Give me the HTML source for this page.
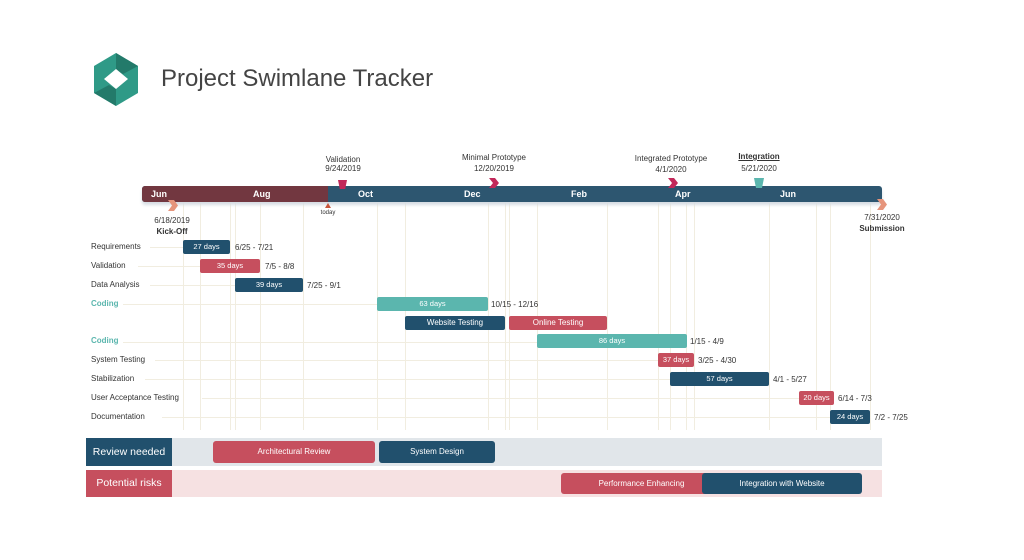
<!DOCTYPE html>
<html><head><meta charset="utf-8"><style>
body{margin:0;width:1024px;height:560px;background:#fff;font-family:"Liberation Sans",sans-serif;position:relative;overflow:hidden}
.a{position:absolute}
.t{position:absolute;font-size:8px;color:#333;white-space:nowrap}
.c{text-align:center;transform:translateX(-50%)}
.g{position:absolute;width:1px;background:#f1ede0;top:202px;height:228px}
.b{position:absolute;height:14px;border-radius:2px;color:#fff;font-size:7.5px;text-align:center;line-height:14px;white-space:nowrap}
.d{background:#21506d}.r{background:#c64f5e}.q{background:#5bb6ae}
.l{position:absolute;height:1px;background:#f1ede0}
.m{position:absolute;font-size:9px;color:#fff;font-weight:bold;top:189px}
</style></head><body>
<svg class="a" style="left:93px;top:52px" width="46" height="55" viewBox="0 0 46 55">
<polygon points="23,1 45,14 45,41 23,54 1,41 1,14" fill="#2f9a87"/>
<polygon points="23,1 45,14 30,22 23,18" fill="#237a6a"/>
<polygon points="1,41 23,54 23,37 16,33" fill="#237a6a"/>
<polygon points="23,17 35,27 23,37 11,27" fill="#fff"/>
</svg>
<div class="t" style="left:161px;top:65px;font-size:24px;color:#444">Project Swimlane Tracker</div>

<div class="g" style="left:183px"></div><div class="g" style="left:200px"></div><div class="g" style="left:230px"></div><div class="g" style="left:235px"></div><div class="g" style="left:260px"></div><div class="g" style="left:303px"></div><div class="g" style="left:377px"></div><div class="g" style="left:405px"></div><div class="g" style="left:488px"></div><div class="g" style="left:505px"></div><div class="g" style="left:509px"></div><div class="g" style="left:537px"></div><div class="g" style="left:607px"></div><div class="g" style="left:658px"></div><div class="g" style="left:670px"></div><div class="g" style="left:686px"></div><div class="g" style="left:694px"></div><div class="g" style="left:769px"></div><div class="g" style="left:816px"></div><div class="g" style="left:830px"></div><div class="g" style="left:870px"></div>

<div class="a" style="left:142px;top:186px;width:740px;height:16px;background:#2d5670;border-radius:3px;box-shadow:0 3px 3px #d6dde3"></div>
<div class="a" style="left:142px;top:186px;width:186px;height:16px;background:#723740;border-radius:3px 0 0 3px"></div>
<div class="m" style="left:151px">Jun</div><div class="m" style="left:253px">Aug</div><div class="m" style="left:358px">Oct</div><div class="m" style="left:464px">Dec</div><div class="m" style="left:571px">Feb</div><div class="m" style="left:675px">Apr</div><div class="m" style="left:780px">Jun</div>

<div class="a" style="left:338px;top:180px;width:9px;height:9px;background:#c2285a;clip-path:polygon(0 0,100% 0,80% 100%,20% 100%)"></div>
<div class="a" style="left:489px;top:178px;width:10px;height:10px;background:#c2285a;clip-path:polygon(0 0,60% 0,100% 50%,60% 100%,0 100%,40% 50%)"></div>
<div class="a" style="left:668px;top:178px;width:10px;height:10px;background:#c2285a;clip-path:polygon(0 0,60% 0,100% 50%,60% 100%,0 100%,40% 50%)"></div>
<div class="a" style="left:754px;top:178px;width:10px;height:10px;background:#5bb6ae;clip-path:polygon(0 0,100% 0,80% 100%,20% 100%)"></div>
<div class="a" style="left:168px;top:200px;width:10px;height:11px;background:#e6957c;clip-path:polygon(0 0,60% 0,100% 50%,60% 100%,0 100%,40% 50%)"></div>
<div class="a" style="left:877px;top:199px;width:10px;height:11px;background:#e6957c;clip-path:polygon(0 0,60% 0,100% 50%,60% 100%,0 100%,40% 50%)"></div>
<div class="a" style="left:325px;top:203px;width:0;height:0;border-left:3px solid transparent;border-right:3px solid transparent;border-bottom:5px solid #c8553a"></div>
<div class="t c" style="left:328px;top:210px;font-size:6px">today</div>

<div class="t c" style="left:343px;top:155px">Validation<br>9/24/2019</div>
<div class="t c" style="left:494px;top:152px;line-height:11px">Minimal Prototype<br>12/20/2019</div>
<div class="t c" style="left:671px;top:153px;line-height:11px">Integrated Prototype<br>4/1/2020</div>
<div class="t c" style="left:759px;top:151px;line-height:12px"><b style="text-decoration:underline">Integration</b><br>5/21/2020</div>
<div class="t c" style="left:172px;top:215px;line-height:11px">6/18/2019<br><b>Kick-Off</b></div>
<div class="t c" style="left:882px;top:212px;line-height:11px">7/31/2020<br><b>Submission</b></div>

<div class="t" style="left:91px;top:242px">Requirements</div><div class="l" style="left:150px;top:247px;width:33px"></div>
<div class="t" style="left:91px;top:261px">Validation</div><div class="l" style="left:138px;top:266px;width:62px"></div>
<div class="t" style="left:91px;top:280px">Data Analysis</div><div class="l" style="left:150px;top:285px;width:85px"></div>
<div class="t" style="left:91px;top:299px;color:#5bb6ae;font-weight:bold">Coding</div><div class="l" style="left:123px;top:304px;width:254px"></div>
<div class="t" style="left:91px;top:336px;color:#5bb6ae;font-weight:bold">Coding</div><div class="l" style="left:123px;top:342px;width:414px"></div>
<div class="t" style="left:91px;top:355px">System Testing</div><div class="l" style="left:155px;top:360px;width:503px"></div>
<div class="t" style="left:91px;top:374px">Stabilization</div><div class="l" style="left:145px;top:379px;width:525px"></div>
<div class="t" style="left:91px;top:393px">User Acceptance Testing</div><div class="l" style="left:202px;top:398px;width:597px"></div>
<div class="t" style="left:91px;top:412px">Documentation</div><div class="l" style="left:162px;top:417px;width:668px"></div>

<div class="b d" style="left:183px;top:240px;width:47px">27 days</div><div class="t" style="left:235px;top:243px">6/25 - 7/21</div>
<div class="b r" style="left:200px;top:259px;width:60px">35 days</div><div class="t" style="left:265px;top:262px">7/5 - 8/8</div>
<div class="b d" style="left:235px;top:278px;width:68px">39 days</div><div class="t" style="left:307px;top:281px">7/25 - 9/1</div>
<div class="b q" style="left:377px;top:297px;width:111px">63 days</div><div class="t" style="left:491px;top:300px">10/15 - 12/16</div>
<div class="b d" style="left:405px;top:316px;width:100px;font-size:8px">Website Testing</div>
<div class="b r" style="left:509px;top:316px;width:98px;font-size:8px">Online Testing</div>
<div class="b q" style="left:537px;top:334px;width:150px">86 days</div><div class="t" style="left:690px;top:337px">1/15 - 4/9</div>
<div class="b r" style="left:658px;top:353px;width:36px">37 days</div><div class="t" style="left:698px;top:356px">3/25 - 4/30</div>
<div class="b d" style="left:670px;top:372px;width:99px">57 days</div><div class="t" style="left:773px;top:375px">4/1 - 5/27</div>
<div class="b r" style="left:799px;top:391px;width:35px">20 days</div><div class="t" style="left:838px;top:394px">6/14 - 7/3</div>
<div class="b d" style="left:830px;top:410px;width:40px">24 days</div><div class="t" style="left:874px;top:413px">7/2 - 7/25</div>

<div class="a" style="left:86px;top:438px;width:796px;height:28px;background:#e1e6ea"></div>
<div class="a" style="left:86px;top:438px;width:86px;height:28px;background:#21506d;color:#fff;font-size:10.5px;line-height:28px;text-align:center">Review needed</div>
<div class="b r" style="left:213px;top:441px;width:162px;height:22px;line-height:22px;font-size:8px;border-radius:3px">Architectural Review</div>
<div class="b d" style="left:379px;top:441px;width:116px;height:22px;line-height:22px;font-size:8px;border-radius:3px">System Design</div>
<div class="a" style="left:86px;top:470px;width:796px;height:27px;background:#f6e1e2"></div>
<div class="a" style="left:86px;top:470px;width:86px;height:27px;background:#c64f5e;color:#fff;font-size:10.5px;line-height:27px;text-align:center">Potential risks</div>
<div class="b r" style="left:561px;top:473px;width:161px;height:21px;line-height:21px;font-size:8px;border-radius:3px">Performance Enhancing</div>
<div class="b d" style="left:702px;top:473px;width:160px;height:21px;line-height:21px;font-size:8px;border-radius:3px">Integration with Website</div>
</body></html>
